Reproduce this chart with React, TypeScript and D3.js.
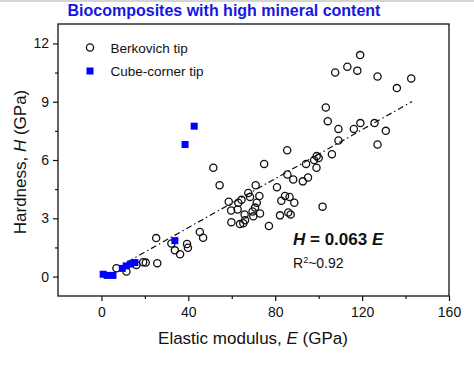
import { useEffect, useRef } from 'react';
import * as d3 from 'd3';

// Berkovich tip measurements (E in GPa, H in GPa)
const berkE = [
  6.9, 11.5, 16.1, 19.2, 20.4, 25.7, 25.2, 32.2, 33.8, 36.2, 39.4, 39.8, 45.3, 46.8,
  51.5, 54.4, 58.6, 59.7, 59.8, 62.7, 63.0, 64.5, 65.9, 63.8, 65.3, 66.1, 67.6, 68.4,
  69.6, 69.9, 70.7, 71.5, 71.0, 72.7, 73.0, 74.9, 77.1, 80.8, 82.2, 82.8, 84.5, 86.6,
  86.0, 87.1, 88.8, 85.6, 88.3, 85.5, 92.7, 95.1, 94.2, 99.0, 99.1, 100.0, 97.9, 101.8,
  106.1, 103.3, 104.2, 109.1, 109.1, 116.2, 119.2, 125.7, 130.9, 127.1, 107.6, 113.2,
  117.8, 119.1, 127.1, 136.0, 142.6,
];
const berkH = [
  0.43, 0.26, 0.6, 0.74, 0.72, 0.69, 1.98, 1.7, 1.35, 1.15, 1.68, 1.48, 2.3, 2.0,
  5.6, 4.7, 3.85, 3.4, 2.8, 3.45, 3.8, 3.95, 3.2, 2.7, 2.75, 2.9, 4.3, 4.1,
  3.35, 3.1, 3.55, 3.8, 4.7, 4.15, 3.25, 5.8, 2.6, 4.6, 3.15, 3.9, 4.15, 4.1,
  3.3, 3.2, 3.8, 5.25, 5.0, 6.5, 4.9, 5.1, 5.8, 5.6, 6.2, 6.1, 6.0, 3.6,
  6.3, 8.7, 8.0, 7.6, 7.0, 7.6, 7.9, 7.9, 7.5, 6.8, 10.5, 10.8,
  10.6, 11.4, 10.3, 9.7, 10.2,
];

// Cube-corner tip measurements
const cubeE = [0.8, 2.6, 5.3, 9.6, 11.4, 13.3, 15.4, 33.8, 38.5, 42.7];
const cubeH = [0.12, 0.06, 0.06, 0.42, 0.55, 0.64, 0.72, 1.85, 6.8, 7.74];

const xMajor = [0, 40, 80, 120, 160];
const xMinor = [20, 60, 100, 140];
const yMajor = [0, 3, 6, 9, 12];
const yMinor = [1.5, 4.5, 7.5, 10.5];

const slope = 0.063;
const fitRange = [12, 143];

const FONT = 'Arial, "Liberation Sans", sans-serif';

export default function App() {
  const svgRef = useRef<SVGSVGElement>(null);
  const width = 474;
  const height = 365;

  useEffect(() => {
    if (!svgRef.current) return;
    const svg = d3.select(svgRef.current);
    svg.selectAll('*').remove();

    const left = 58, right = 449, top = 24, bottom = 296;

    const x = d3.scaleLinear().domain([-20, 160]).range([left, right]);
    const y = d3.scaleLinear().domain([-1, 13]).range([bottom, top]);

    svg.append('rect').attr('width', width).attr('height', height).attr('fill', '#fff');
    svg.append('rect').attr('width', width).attr('height', 2).attr('fill', '#d4d4d4');

    // title
    svg.append('text')
      .attr('x', 224)
      .attr('y', 15.5)
      .attr('text-anchor', 'middle')
      .style('font-family', FONT)
      .style('font-size', '16px')
      .style('font-weight', 'bold')
      .style('fill', '#1616e4')
      .text('Biocomposites with high mineral content');

    // bottom axis
    const xAxis = svg.append('g').attr('transform', `translate(0,${bottom})`);
    xAxis.call(d3.axisBottom(x).tickValues(xMajor).tickSize(5).tickPadding(6).tickFormat(d3.format('d')));
    xAxis.select('.domain').remove();
    xAxis.selectAll('text').style('font-family', FONT).style('font-size', '14px').style('fill', '#111');
    const xMin = svg.append('g').attr('transform', `translate(0,${bottom})`);
    xMin.call(d3.axisBottom(x).tickValues(xMinor).tickSize(3).tickFormat(() => ''));
    xMin.select('.domain').remove();

    // left axis
    const yAxis = svg.append('g').attr('transform', `translate(${left},0)`);
    yAxis.call(d3.axisLeft(y).tickValues(yMajor).tickSize(5).tickPadding(4).tickFormat(d3.format('d')));
    yAxis.select('.domain').remove();
    yAxis.selectAll('text').style('font-family', FONT).style('font-size', '14px').style('fill', '#111');
    const yMin = svg.append('g').attr('transform', `translate(${left},0)`);
    yMin.call(d3.axisLeft(y).tickValues(yMinor).tickSize(3).tickFormat(() => ''));
    yMin.select('.domain').remove();

    svg.selectAll('.tick line').attr('stroke', '#111').attr('stroke-width', 1.2);

    // frame
    svg.append('rect')
      .attr('x', left)
      .attr('y', top)
      .attr('width', right - left)
      .attr('height', bottom - top)
      .attr('fill', 'none')
      .attr('stroke', '#111')
      .attr('stroke-width', 1.3);

    // fit line
    svg.append('line')
      .attr('x1', x(fitRange[0]))
      .attr('y1', y(slope * fitRange[0]))
      .attr('x2', x(fitRange[1]))
      .attr('y2', y(slope * fitRange[1]))
      .attr('stroke', '#111')
      .attr('stroke-width', 1.2)
      .attr('stroke-dasharray', '6,3,1.5,3');

    // Berkovich points
    svg.append('g')
      .selectAll('circle')
      .data(berkE.map((e, i) => [e, berkH[i]]))
      .join('circle')
      .attr('cx', d => x(d[0]))
      .attr('cy', d => y(d[1]))
      .attr('r', 3.6)
      .attr('fill', 'none')
      .attr('stroke', '#111')
      .attr('stroke-width', 1.3);

    // Cube-corner points
    const s = 7;
    svg.append('g')
      .selectAll('rect')
      .data(cubeE.map((e, i) => [e, cubeH[i]]))
      .join('rect')
      .attr('x', d => x(d[0]) - s / 2)
      .attr('y', d => y(d[1]) - s / 2)
      .attr('width', s)
      .attr('height', s)
      .attr('fill', '#0000ff');

    // legend
    svg.append('circle')
      .attr('cx', 90).attr('cy', 47.5).attr('r', 3.6)
      .attr('fill', 'none').attr('stroke', '#111').attr('stroke-width', 1.3);
    svg.append('rect')
      .attr('x', 90 - s / 2).attr('y', 71 - s / 2).attr('width', s).attr('height', s)
      .attr('fill', '#0000ff');
    const legendText = [['Berkovich tip', 52.5], ['Cube-corner tip', 76]] as const;
    legendText.forEach(([t, ty]) => {
      svg.append('text')
        .attr('x', 110.5)
        .attr('y', ty)
        .style('font-family', FONT)
        .style('font-size', '13.5px')
        .style('fill', '#111')
        .text(t);
    });

    // equation
    const eq = svg.append('text')
      .attr('x', 293)
      .attr('y', 245)
      .style('font-family', FONT)
      .style('font-size', '17px')
      .style('font-weight', 'bold')
      .style('fill', '#111');
    eq.append('tspan').style('font-style', 'italic').text('H');
    eq.append('tspan').text(' = 0.063 ');
    eq.append('tspan').style('font-style', 'italic').text('E');

    const r2 = svg.append('text')
      .attr('x', 293)
      .attr('y', 268)
      .style('font-family', FONT)
      .style('font-size', '14px')
      .style('fill', '#111');
    r2.append('tspan').text('R');
    r2.append('tspan').attr('dy', -5).style('font-size', '9px').text('2');
    r2.append('tspan').attr('dy', 5).text('~0.92');

    // axis titles
    const xt = svg.append('text')
      .attr('x', 253)
      .attr('y', 344)
      .attr('text-anchor', 'middle')
      .style('font-family', FONT)
      .style('font-size', '17px')
      .style('fill', '#111');
    xt.append('tspan').text('Elastic modulus, ');
    xt.append('tspan').style('font-style', 'italic').text('E');
    xt.append('tspan').text(' (GPa)');

    const yt = svg.append('text')
      .attr('transform', 'translate(26,162) rotate(-90)')
      .attr('text-anchor', 'middle')
      .style('font-family', FONT)
      .style('font-size', '17px')
      .style('fill', '#111');
    yt.append('tspan').text('Hardness, ');
    yt.append('tspan').style('font-style', 'italic').text('H');
    yt.append('tspan').text(' (GPa)');
  }, []);

  return (
    <svg
      ref={svgRef}
      width={width}
      height={height}
      style={{ position: 'absolute', left: 0, top: 0, display: 'block' }}
    />
  );
}
